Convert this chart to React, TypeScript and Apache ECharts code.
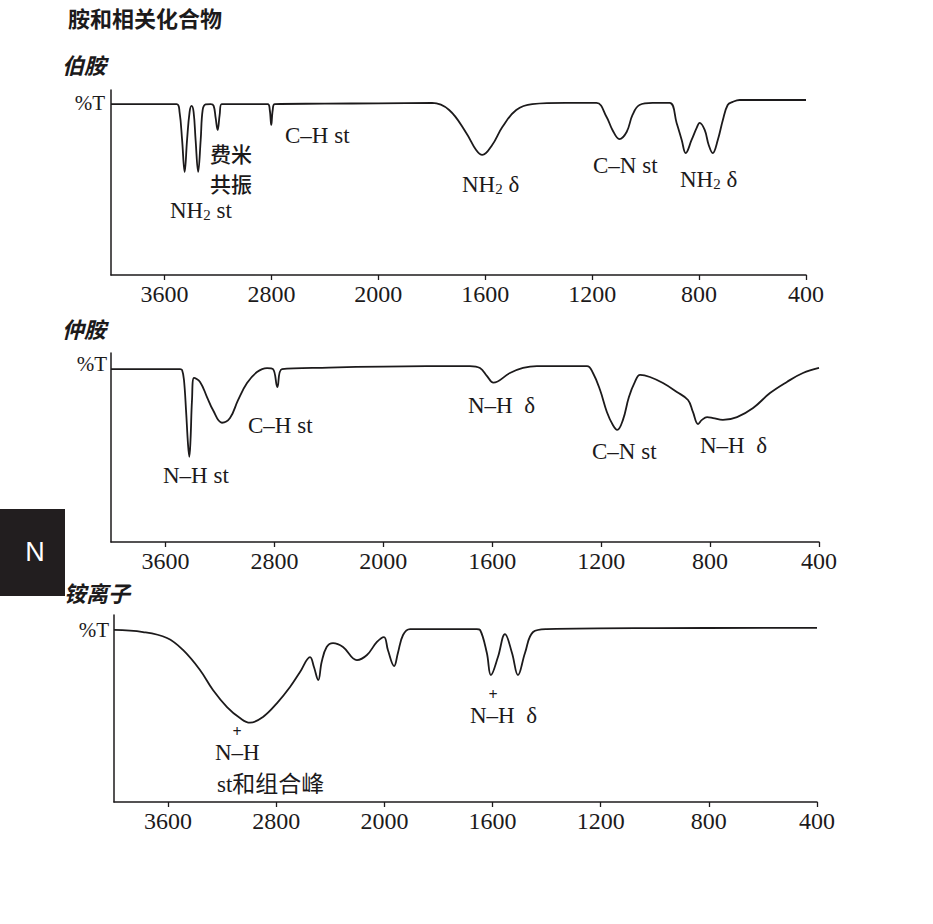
import React, { useEffect, useRef } from "react";
import * as echarts from "echarts";

// ---- data (wavenumber cm-1, %T) ----
const TICK_WAVENUMBERS = [3600, 2800, 2000, 1600, 1200, 800, 400];

const PRIMARY_WN = [4000, 3509, 3487, 3468, 3449, 3431, 3412, 3397, 3382, 3367, 3348, 3329, 3314, 3292, 3254, 3232, 3217, 3202, 3187, 3172, 3000, 2827, 2812, 2801, 2790, 2775, 2400, 2000, 1799, 1735, 1671, 1634, 1611, 1574, 1536, 1484, 1424, 1300, 1184, 1146, 1124, 1098, 1071, 1049, 1023, 974, 910, 884, 865, 850, 828, 809, 798, 779, 764, 749, 730, 711, 693, 674, 648, 520, 400];
const PRIMARY_T = [92.4, 92.4, 88.1, 73.0, 55.7, 73.0, 88.1, 91.4, 88.1, 73.0, 55.7, 73.0, 89.2, 92.2, 92.4, 91.4, 84.9, 78.4, 86.5, 92.4, 92.4, 92.4, 89.2, 81.1, 89.2, 92.4, 92.6, 92.8, 93.0, 89.2, 76.8, 67.6, 64.9, 70.3, 80.0, 89.2, 92.4, 93.0, 93.0, 85.4, 78.4, 73.5, 77.3, 86.5, 91.9, 93.0, 93.0, 82.2, 73.0, 65.9, 73.0, 79.5, 82.2, 78.4, 70.3, 65.9, 73.0, 83.8, 91.9, 93.6, 94.6, 94.6, 94.6];

const SECONDARY_WN = [4000, 3493, 3478, 3464, 3449, 3434, 3425, 3416, 3405, 3390, 3346, 3295, 3251, 3185, 3126, 3067, 3001, 2928, 2854, 2810, 2778, 2744, 2400, 2000, 1682, 1645, 1619, 1596, 1535, 1487, 1436, 1252, 1230, 1204, 1179, 1157, 1141, 1120, 1098, 1076, 1057, 1021, 973, 922, 881, 863, 844, 830, 811, 789, 753, 701, 642, 580, 518, 459, 400];
const SECONDARY_T = [91.5, 91.5, 91.0, 85.7, 69.8, 51.3, 45.1, 54.0, 75.1, 86.8, 84.7, 76.7, 69.8, 63.1, 65.6, 75.1, 84.1, 89.9, 92.0, 91.5, 82.0, 91.5, 92.3, 92.8, 93.1, 92.1, 87.8, 84.3, 89.4, 92.1, 93.1, 93.1, 89.4, 80.4, 68.8, 61.9, 59.3, 64.6, 76.7, 84.7, 88.4, 87.3, 84.1, 79.4, 75.1, 68.8, 62.4, 64.6, 66.1, 65.6, 64.6, 66.1, 70.9, 78.8, 84.7, 89.4, 92.1];

const AMMONIUM_WN = [4000, 3785, 3608, 3490, 3364, 3268, 3164, 3068, 2994, 2898, 2794, 2698, 2624, 2550, 2521, 2489, 2464, 2427, 2380, 2306, 2203, 2129, 2055, 2003, 1987, 1964, 1950, 1931, 1905, 1820, 1658, 1646, 1621, 1606, 1580, 1554, 1528, 1506, 1480, 1450, 1399, 1000, 400];
const AMMONIUM_T = [92.0, 90.9, 87.7, 81.3, 70.6, 59.9, 50.8, 44.9, 42.4, 45.5, 52.9, 61.5, 69.5, 77.5, 72.2, 65.2, 74.9, 82.9, 85.0, 82.9, 75.9, 78.6, 85.6, 88.2, 81.3, 72.7, 79.7, 89.3, 92.5, 92.5, 92.5, 92.0, 79.7, 67.9, 77.5, 89.8, 79.7, 67.9, 79.7, 90.9, 92.5, 93.0, 93.1];

// IR axis: scale above 2000 cm-1 is compressed by a factor of 2
const toU = (w: number) => (w > 2000 ? 2000 + (w - 2000) / 2 : w);
const fromU = (u: number) => (u > 2000 ? Math.round(2000 + (u - 2000) * 2) : Math.round(u));

const INK = "#1c1a1b";
const SERIF = "'Liberation Serif', 'Noto Sans CJK SC', serif";
const CJK = "'Noto Sans CJK SC', sans-serif";

const GRIDS = [
  { left: 111, top: 90, width: 695, height: 185 },
  { left: 111, top: 353, width: 708, height: 189 },
  { left: 114, top: 615, width: 703, height: 187 },
];

function txt(text: string, x: number, y: number, font: string, align = "left", fill = INK) {
  return {
    type: "text",
    x,
    y,
    silent: true,
    style: { text, font, fill, align, verticalAlign: "middle", textAlign: align, textVerticalAlign: "middle" },
  };
}

function nh2(text: string, x: number, y: number) {
  return {
    type: "text",
    x,
    y,
    silent: true,
    style: {
      text,
      fill: INK,
      align: "left",
      verticalAlign: "middle",
      textAlign: "left",
      textVerticalAlign: "middle",
      rich: {
        a: { fontFamily: SERIF, fontSize: 23, lineHeight: 24, fill: INK, color: INK },
        s: { fontFamily: SERIF, fontSize: 15, lineHeight: 14, verticalAlign: "bottom", fill: INK, color: INK },
      },
    },
  };
}

export default function App() {
  const ref = useRef<HTMLDivElement>(null);

  useEffect(() => {
    if (!ref.current) return;
    const chart = echarts.init(ref.current, undefined, { renderer: "svg" });
    const tickU = TICK_WAVENUMBERS.map(toU);
    const datasets = [
      [PRIMARY_WN, PRIMARY_T],
      [SECONDARY_WN, SECONDARY_T],
      [AMMONIUM_WN, AMMONIUM_T],
    ];

    const lineStyle = { color: INK, width: 1.8 };

    const f23 = `23px ${SERIF}`;
    const graphic: any[] = [
      txt("胺和相关化合物", 68, 17, `bold 22px ${CJK}`),
      txt("伯胺", 62, 64, `italic bold 22px ${CJK}`),
      txt("仲胺", 62, 328, `italic bold 22px ${CJK}`),
      { type: "rect", x: 0, y: 509, shape: { x: 0, y: 0, width: 65, height: 87 }, style: { fill: "#221e1f" }, silent: true },
      txt("N", 35, 552, `27px 'Liberation Sans', Arial, sans-serif`, "center", "#ffffff"),
      txt("铵离子", 64, 592, `italic bold 22px ${CJK}`),
      txt("%T", 105, 103, `21px ${SERIF}`, "right"),
      txt("%T", 107, 364, `21px ${SERIF}`, "right"),
      txt("%T", 109, 630, `21px ${SERIF}`, "right"),
      // primary amine
      txt("费米", 210, 153, `500 21px ${CJK}`),
      txt("共振", 210, 183, `500 21px ${CJK}`),
      nh2("{a|NH}{s|2}{a| st}", 170, 210),
      txt("C–H st", 285, 135, f23),
      nh2("{a|NH}{s|2}{a| δ}", 462, 184),
      txt("C–N st", 593, 165, f23),
      nh2("{a|NH}{s|2}{a| δ}", 680, 179),
      // secondary amine
      txt("N–H st", 163, 475, f23),
      txt("C–H st", 248, 425, f23),
      txt("N–H  δ", 468, 405, f23),
      txt("C–N st", 592, 451, f23),
      txt("N–H  δ", 700, 445, f23),
      // ammonium
      txt("N–H", 215, 752, f23),
      txt("+", 237, 731, `bold 16px ${SERIF}`, "center"),
      txt("st和组合峰", 217, 784, `23px ${SERIF}`),
      txt("N–H  δ", 470, 715, f23),
      txt("+", 493, 694, `bold 16px ${SERIF}`, "center"),
    ];

    chart.setOption({
      animation: false,
      grid: GRIDS.map((g) => ({ ...g, containLabel: false })),
      xAxis: GRIDS.map((_, i) => ({
        type: "value",
        gridIndex: i,
        inverse: true,
        min: 400,
        max: 3000,
        interval: 400,
        axisLine: { show: true, onZero: false, lineStyle: { color: INK, width: 1.5 } },
        axisTick: { show: true, inside: false, length: 5, customValues: tickU, lineStyle: { color: INK, width: 1.3 } },
        axisLabel: {
          show: true,
          customValues: tickU,
          margin: 7,
          fontFamily: SERIF,
          fontSize: 24,
          color: INK,
          formatter: (v: number) => (v > 2800 ? "" : String(fromU(v))),
        },
        splitLine: { show: false },
      })),
      yAxis: GRIDS.map((_, i) => ({
        type: "value",
        gridIndex: i,
        min: 0,
        max: 100,
        axisLine: { show: true, lineStyle: { color: INK, width: 1.5 } },
        axisTick: { show: false },
        axisLabel: { show: false },
        splitLine: { show: false },
      })),
      series: datasets.map(([wn, t], i) => ({
        type: "line",
        xAxisIndex: i,
        yAxisIndex: i,
        data: wn.map((w, k) => [toU(w), t[k]]),
        showSymbol: false,
        symbol: "none",
        smooth: 0.4,
        silent: true,
        lineStyle,
      })),
      graphic,
    });

    return () => chart.dispose();
  }, []);

  return (
    <div
      ref={ref}
      style={{ position: "absolute", left: 0, top: 0, width: 933, height: 924, background: "#ffffff" }}
    />
  );
}
